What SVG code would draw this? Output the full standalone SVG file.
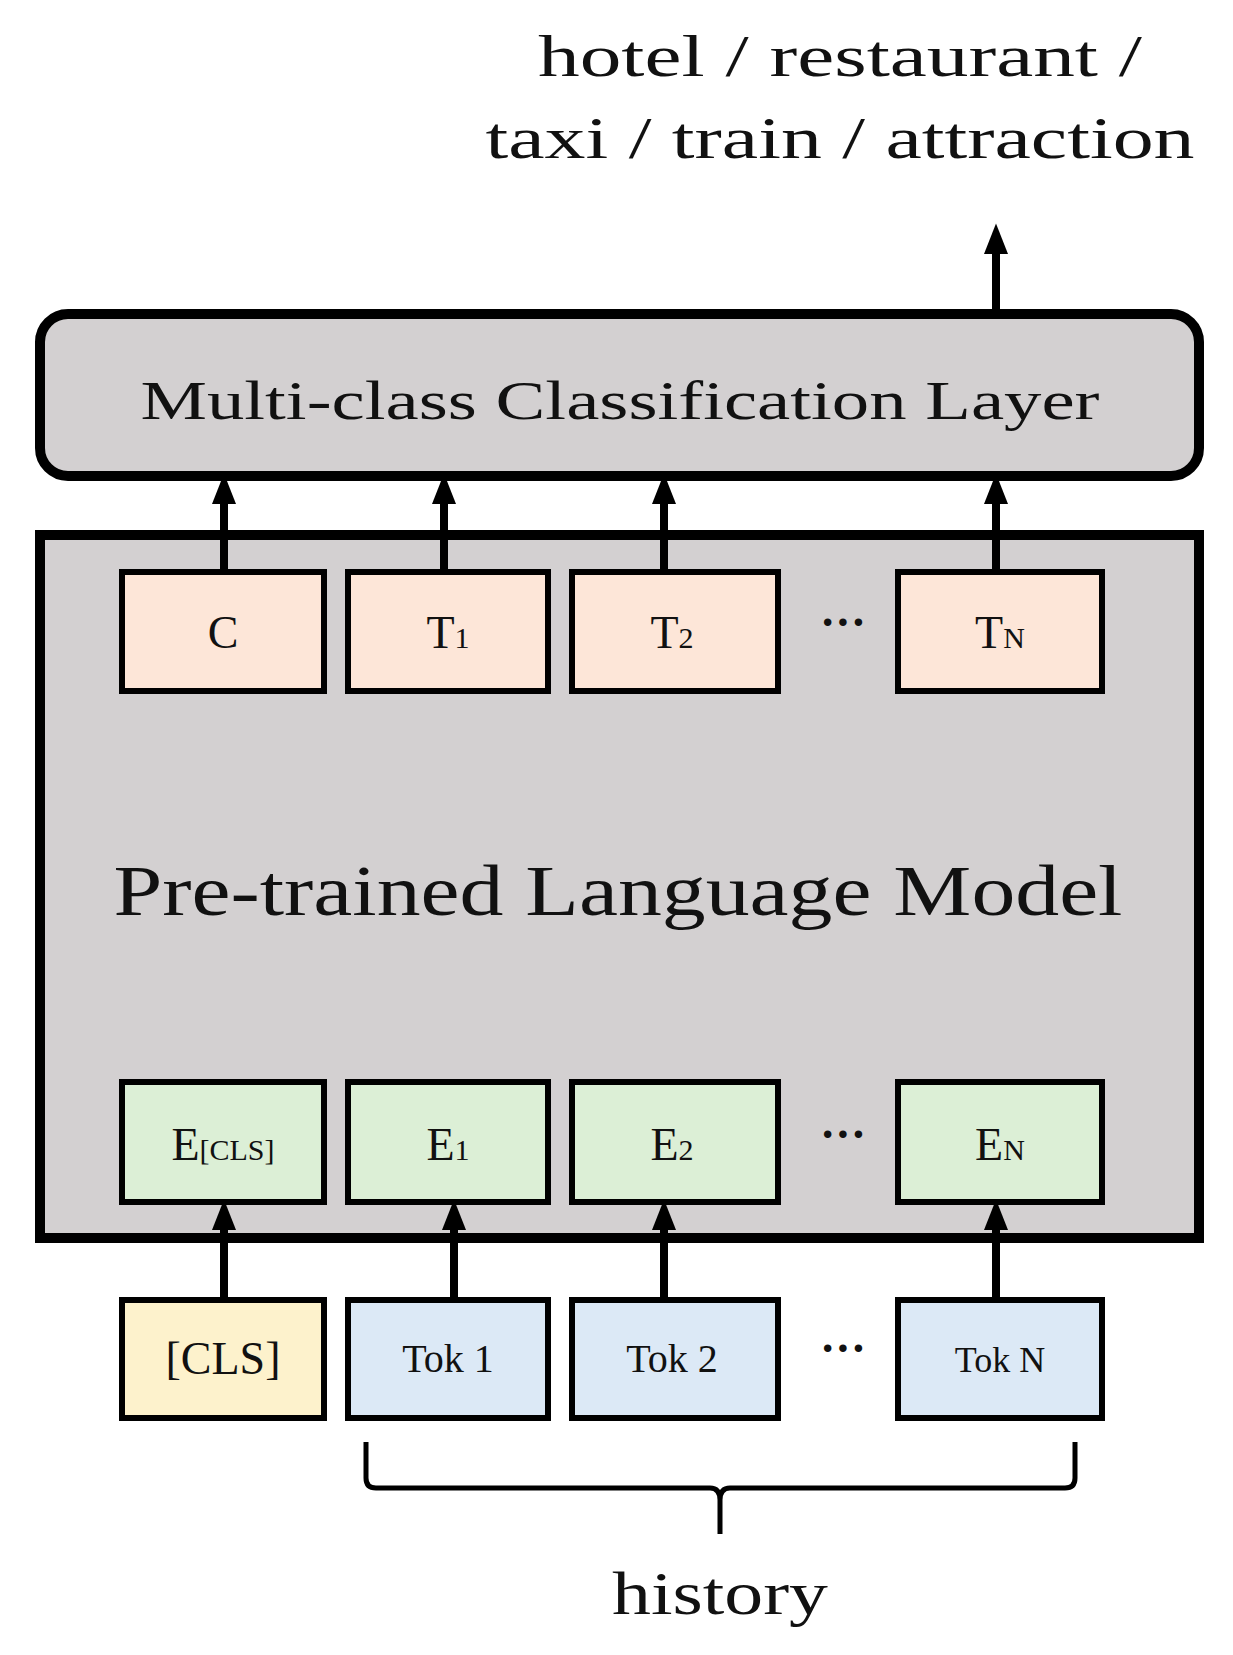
<svg xmlns="http://www.w3.org/2000/svg" width="1233" height="1655" viewBox="0 0 1233 1655">
<style>
text{font-family:"Liberation Serif","DejaVu Serif",serif;fill:#111;text-anchor:middle}
.big{stroke:#000;stroke-width:10;fill:#d3d0d1}
.sm{stroke:#000;stroke-width:6}
.t{fill:#fde6d8}.e{fill:#dcefd6}.c{fill:#fdf2cc}.k{fill:#dce9f6}
.lbl{font-size:46px}
.sub{font-size:30px}
.ar{stroke:#000;stroke-width:8;fill:none}
.dots{font-size:46px;font-weight:bold}
</style>
<defs><marker id="ah" markerWidth="4" markerHeight="4" refX="2" refY="2" orient="auto" markerUnits="strokeWidth"><path d="M0,0.5L3.8,2L0,3.5Z" fill="#000"/></marker></defs>
<rect x="0" y="0" width="1233" height="1655" fill="#fff"/>
<text x="840" y="76" font-size="60" textLength="604" lengthAdjust="spacingAndGlyphs">hotel / restaurant /</text>
<text x="840" y="158" font-size="60" textLength="709" lengthAdjust="spacingAndGlyphs">taxi / train / attraction</text>
<g id="classifier"><rect class="big" x="40" y="314" width="1159" height="162" rx="28"/>
<text x="620" y="419" font-size="54" textLength="959" lengthAdjust="spacingAndGlyphs">Multi-class Classification Layer</text></g>
<g id="plm"><rect class="big" x="40" y="535" width="1159" height="703"/>
<text x="618" y="915" font-size="72" textLength="1009" lengthAdjust="spacingAndGlyphs">Pre-trained Language Model</text></g>
<g id="C"><rect class="sm t" x="122" y="572" width="202" height="119"/><text class="lbl" x="223" y="648">C</text></g>
<g id="T1"><rect class="sm t" x="348" y="572" width="200" height="119"/><text class="lbl" x="448" y="648">T<tspan class="sub">1</tspan></text></g>
<g id="T2"><rect class="sm t" x="572" y="572" width="206" height="119"/><text class="lbl" x="672" y="648">T<tspan class="sub">2</tspan></text></g>
<text class="dots" x="843" y="638">···</text>
<g id="TN"><rect class="sm t" x="898" y="572" width="204" height="119"/><text class="lbl" x="1000" y="648">T<tspan class="sub">N</tspan></text></g>
<g id="ECLS"><rect class="sm e" x="122" y="1082" width="202" height="120"/><text class="lbl" x="223" y="1160">E<tspan class="sub">[CLS]</tspan></text></g>
<g id="E1"><rect class="sm e" x="348" y="1082" width="200" height="120"/><text class="lbl" x="448" y="1160">E<tspan class="sub">1</tspan></text></g>
<g id="E2"><rect class="sm e" x="572" y="1082" width="206" height="120"/><text class="lbl" x="672" y="1160">E<tspan class="sub">2</tspan></text></g>
<text class="dots" x="843" y="1150">···</text>
<g id="EN"><rect class="sm e" x="898" y="1082" width="204" height="120"/><text class="lbl" x="1000" y="1160">E<tspan class="sub">N</tspan></text></g>
<g id="CLS"><rect class="sm c" x="122" y="1300" width="202" height="118"/><text class="lbl" x="223" y="1374">[CLS]</text></g>
<g id="Tok1"><rect class="sm k" x="348" y="1300" width="200" height="118"/><text x="448" y="1372" font-size="40">Tok 1</text></g>
<g id="Tok2"><rect class="sm k" x="572" y="1300" width="206" height="118"/><text x="672" y="1372" font-size="40">Tok 2</text></g>
<text class="dots" x="843" y="1364">···</text>
<g id="TokN"><rect class="sm k" x="898" y="1300" width="204" height="118"/><text x="1000" y="1372" font-size="36">Tok N</text></g>
<g id="connectors">
<line class="ar" x1="996" y1="314" x2="996" y2="238" marker-end="url(#ah)"/>
<line class="ar" x1="224" y1="572" x2="224" y2="488" marker-end="url(#ah)"/>
<line class="ar" x1="444" y1="572" x2="444" y2="488" marker-end="url(#ah)"/>
<line class="ar" x1="664" y1="572" x2="664" y2="488" marker-end="url(#ah)"/>
<line class="ar" x1="996" y1="572" x2="996" y2="488" marker-end="url(#ah)"/>
<line class="ar" x1="224" y1="1300" x2="224" y2="1214" marker-end="url(#ah)"/>
<line class="ar" x1="454" y1="1300" x2="454" y2="1214" marker-end="url(#ah)"/>
<line class="ar" x1="664" y1="1300" x2="664" y2="1214" marker-end="url(#ah)"/>
<line class="ar" x1="996" y1="1300" x2="996" y2="1214" marker-end="url(#ah)"/>
</g>
<g id="brace"><path d="M366,1442 V1478 Q366,1488 376,1488 H710 Q720,1488 720,1500 V1534 M720,1500 Q720,1488 730,1488 H1065 Q1075,1488 1075,1478 V1442" fill="none" stroke="#000" stroke-width="5"/></g>
<text x="720" y="1614" font-size="62" textLength="216" lengthAdjust="spacingAndGlyphs">history</text>
</svg>
